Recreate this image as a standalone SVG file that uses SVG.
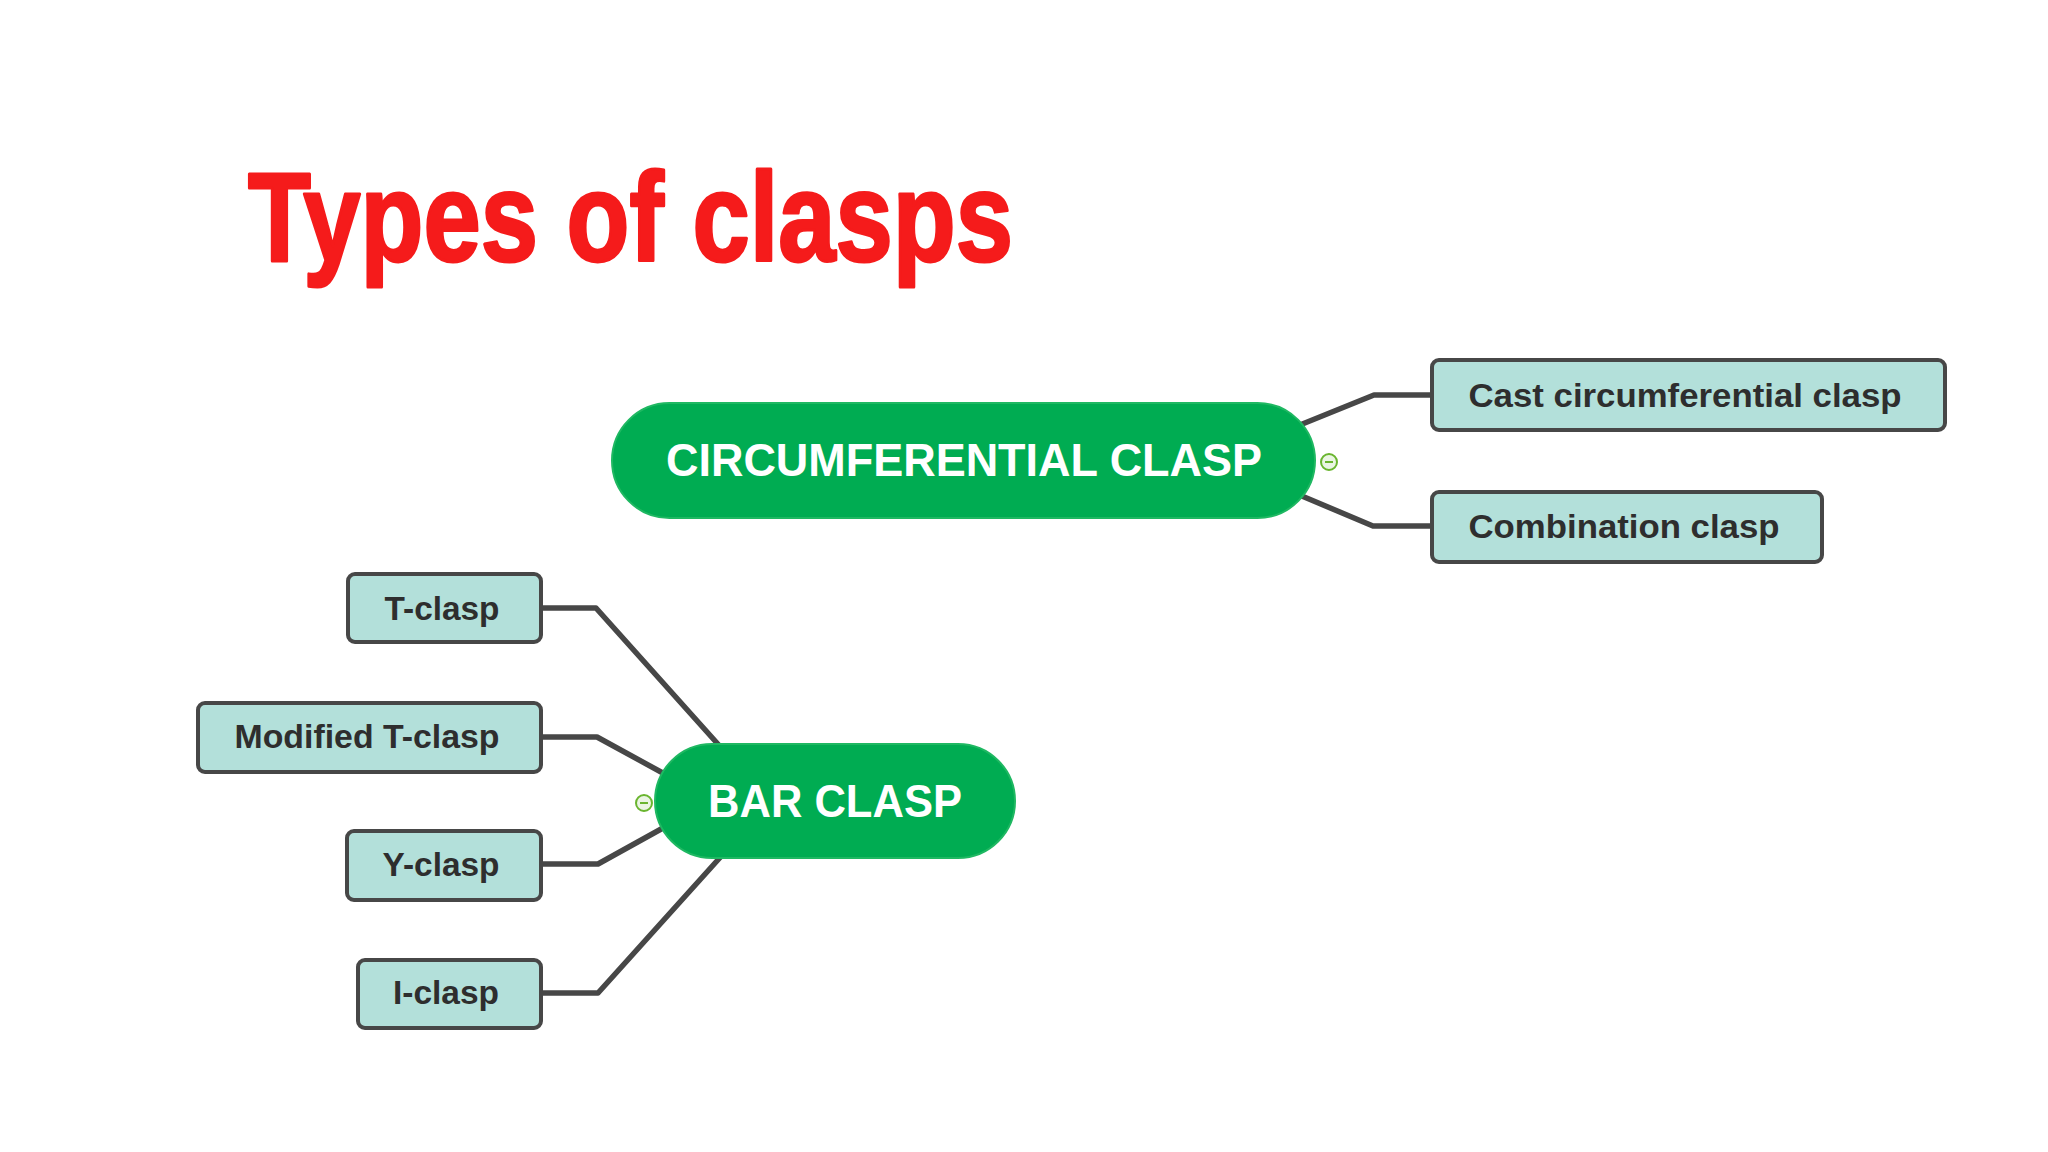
<svg xmlns="http://www.w3.org/2000/svg" width="2048" height="1152" viewBox="0 0 2048 1152">
<style>
.bg{fill:#ffffff}
.title{font-family:"Liberation Sans Narrow","Liberation Sans",Arial,sans-serif;font-weight:bold;font-size:127px;fill:#f51b1b;stroke:#f51b1b;stroke-width:3;stroke-linejoin:round}
.main{fill:#00ac52;stroke:#1fb862;stroke-width:2}
.mainText{font-family:"Liberation Sans",Arial,sans-serif;font-weight:bold;font-size:46px;fill:#ffffff;text-anchor:middle}
.leaf{fill:#b3e0da;stroke:#474747;stroke-width:4}
.leafText{font-family:"Liberation Sans",Arial,sans-serif;font-weight:bold;font-size:34px;fill:#2e2e2e;text-anchor:middle}
.conn{fill:none;stroke:#474747;stroke-width:5.5;stroke-linejoin:round;stroke-linecap:round}
.tog{fill:#eaf5e3;stroke:#6ab52f;stroke-width:2}
.togm{stroke:#6ab52f;stroke-width:2}
</style>
<rect class="bg" x="0" y="0" width="2048" height="1152"/>
<text id="title" class="title" x="248" y="261" textLength="765" lengthAdjust="spacingAndGlyphs">Types of clasps</text>

<g id="connectors">
<path class="conn" d="M1290,429 L1374,395 L1432,395"/>
<path class="conn" d="M1290,491 L1373,526 L1432,526"/>
<path class="conn" d="M541,608 L596,608 L725,752"/>
<path class="conn" d="M541,737 L597,737 L672,778"/>
<path class="conn" d="M541,864 L598,864 L672,823"/>
<path class="conn" d="M541,993 L598,993 L725,852"/>
</g>

<g id="circumferential">
<rect class="main" x="612" y="403" width="703" height="115" rx="57.5"/>
<text class="mainText" x="964" y="476" textLength="596" lengthAdjust="spacingAndGlyphs">CIRCUMFERENTIAL CLASP</text>
<circle class="tog" cx="1329" cy="462" r="8"/>
<line class="togm" x1="1325" y1="462" x2="1333" y2="462"/>
</g>

<g id="bar">
<rect class="main" x="655" y="744" width="360" height="114" rx="57"/>
<text class="mainText" x="835" y="817" textLength="254" lengthAdjust="spacingAndGlyphs">BAR CLASP</text>
<circle class="tog" cx="644" cy="803" r="8"/>
<line class="togm" x1="640" y1="803" x2="648" y2="803"/>
</g>

<g id="cast">
<rect class="leaf" x="1432" y="360" width="513" height="70" rx="7"/>
<text class="leafText" x="1685" y="407" textLength="433" lengthAdjust="spacingAndGlyphs">Cast circumferential clasp</text>
</g>
<g id="combination">
<rect class="leaf" x="1432" y="492" width="390" height="70" rx="7"/>
<text class="leafText" x="1624" y="538" textLength="311" lengthAdjust="spacingAndGlyphs">Combination clasp</text>
</g>
<g id="tclasp">
<rect class="leaf" x="348" y="574" width="193" height="68" rx="7"/>
<text class="leafText" x="442" y="620" textLength="115" lengthAdjust="spacingAndGlyphs">T-clasp</text>
</g>
<g id="modified">
<rect class="leaf" x="198" y="703" width="343" height="69" rx="7"/>
<text class="leafText" x="367" y="748" textLength="265" lengthAdjust="spacingAndGlyphs">Modified T-clasp</text>
</g>
<g id="yclasp">
<rect class="leaf" x="347" y="831" width="194" height="69" rx="7"/>
<text class="leafText" x="441" y="876" textLength="117" lengthAdjust="spacingAndGlyphs">Y-clasp</text>
</g>
<g id="iclasp">
<rect class="leaf" x="358" y="960" width="183" height="68" rx="7"/>
<text class="leafText" x="446" y="1004" textLength="106" lengthAdjust="spacingAndGlyphs">I-clasp</text>
</g>
</svg>
